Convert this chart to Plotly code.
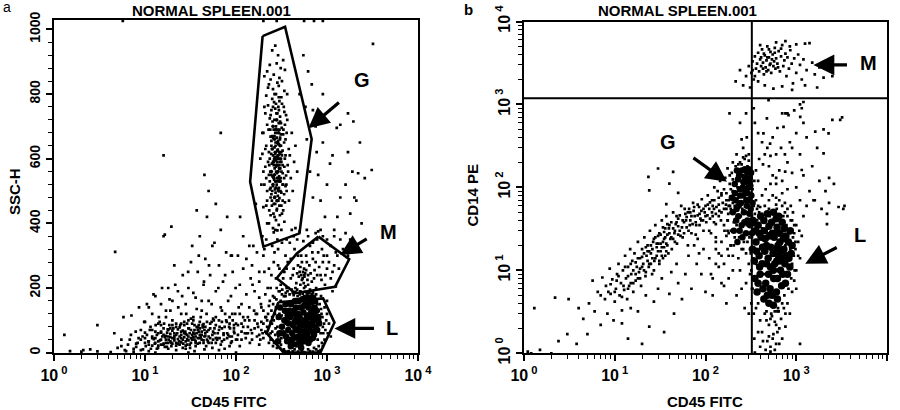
import math
import plotly.graph_objects as go

# ---------------- Panel a : CD45 FITC (log) vs SSC-H (linear) ----------------
A_LOW = [(1.3,55),(2.1,8),(3.0,85),(4.6,60),(5.5,20),(5.8,110),(6.2,5),(6.8,40),(7.1,115),(7.5,12),(7.9,65),
 (8.3,30),(8.6,140),(9.0,8),(9.4,50),(9.8,95),(10.2,20),(10.5,150),(10.9,35),(11.3,70),(11.6,12),(12.0,45),
 (12.4,180),(12.8,28),(13.1,85),(13.5,55),(13.9,15),(14.2,110),(14.6,38),(15.0,62),(15.4,200),(15.8,25),
 (16.2,90),(16.6,48),(17.0,130),(17.4,18),(17.8,72),(18.2,40),(18.6,165),(19.0,58),(19.5,30),(20,100),
 (20.5,75),(21,45),(21.5,210),(22,22),(22.6,60),(23.2,140),(23.8,35),(24.4,85),(25,55),(25.6,175),(26.3,28),
 (27,95),(27.7,65),(28.4,120),(29.1,42),(29.8,250),(30.5,75),(31.3,15),(32,105),(33,55),(34,185),(35,85),
 (36,30),(37,135),(38,70),(39,300),(40,95),(41,48),(42,160),(43,78),(44.5,220),(46,60),(47.5,120),(49,35),
 (50.5,270),(52,90),(54,150),(56,65),(58,340),(60,110),(62,45),(64,200),(66,80),(68,380),(70,130),(73,60),
 (76,240),(79,95),(82,160),(85,50),(88,300),(91,120),(95,75),(99,200),(103,40),(107,140),(111,420),(115,90),
 (120,260),(125,60),(130,180),(135,110),(140,330),(146,70),(152,210),(158,130),(165,460),(172,90),(180,250),
 (188,150),(196,60),(205,320),(214,110),(223,200),
 (5,15),(5.5,40),(6,8),(6.5,25),(7,55),(7.5,3),(8,18),(8.5,45),(9,70),(9.5,10),(10,30),(10.5,55),(11,5),
 (11.5,80),(12,22),(12.5,42),(13,65),(13.5,12),(14,35),(14.5,95),(15,25),(15.5,50),(16,75),(16.5,18),(17,40),
 (17.5,62),(18,30),(18.5,85),(19,48),(19.5,20),(20,68),(21,38),(22,55),(23,28),(24,78),(25,45),(26,15),(27,60),
 (28,35),(29,90),(30,50),(31,25),(32,70),(33,40),(34,100),(35,58),(36,20),(37,80),(38,45),(39,65),(40,30),
 (41,110),(42,55),(43,85),(44,38),(45,70),(47,20),(48,95),(50,50),(52,75),(54,30),(56,105),(58,60),(60,85),
 (62,40),(65,70),(68,25),(70,95),(73,55),(76,120),(80,45),(84,80),(88,30),(92,100),(96,60),(100,40),(105,85),
 (110,20),(115,65),(120,110),(128,45),(135,80),(142,30),(150,60),(160,100),(170,50),(180,25),(190,70),
 (200,45),(210,110),(220,80),(230,55),
 (12,50),(13,30),(14,60),(15,40),(16,28),(17,52),(18,70),(19,35),(20,45),(21,60),(22,30),(23,72),(24,50),
 (25,32),(26,68),(27,48),(28,58),(29,25),(30,75),(32,45),(34,62),(36,50),(38,78),(40,55),(42,40),(44,88),
 (46,52),(48,65),(11,35),(10,62),(9,40),(8,28),(15,65),(20,85),(25,90),(30,100),(35,40),(40,75),(45,50),
 (50,30),(55,55),(60,45),(65,100),(70,35),(75,80),(80,60),(85,110),(90,50),(95,85),(18,12),(22,8),(28,12),
 (35,5),(45,10),(55,15),(65,8),(75,12),(85,20),
 (1.5,5),(2.0,3),(2.5,10),(3.0,4),(4.2,2),(13,0),(30,0),(100,0)]

A_LOW_EXTRA = [(10,45),(11,25),(12,70),(13,45),(14,22),(15,85),(16,55),(17,30),(18,50),(19,75),(20,28),
 (21,52),(22,80),(23,42),(24,25),(25,65),(26,40),(27,85),(28,22),(29,55),(30,38),(31,60),(32,30),(33,90),
 (34,48),(35,70),(36,35),(37,60),(38,28),(39,85),(40,45),(42,65),(44,30),(46,80),(48,40),(50,70),(52,45),
 (54,95),(56,40),(58,75),(60,30),(63,60),(66,45),(70,75),(74,40),(78,100),(82,55),(86,75),(90,35),(95,65),
 (100,90),(105,55),(110,120),(115,40),(120,80),(130,60),(140,100),(150,40),(160,75),(170,120),(180,55),
 (190,95),(200,130),(210,65),(220,100),(230,145),(240,60),(250,110)]

A_MID = [(180,220),(200,300),(215,350),(230,260),(240,200),(250,330),(260,280),(270,380),(235,160),(210,180),
 (190,140),(225,120),(245,240),(255,175),(265,310),(275,230),(285,350),(290,270),(280,200),(220,400),(195,360),
 (205,250),(170,310),(160,190),(150,270),(165,120),(175,80),(185,40),(200,90),(215,60),(230,30),(240,95),
 (180,170),(155,330),(145,230),(140,140),(135,60),(125,100),(120,360),(130,290),(110,210),(115,150),(105,300),
 (98,120),(92,250),(88,175),(85,90),(80,420),(78,310),(72,220),(68,140),(65,270),(60,190),(57,100),(55,330),
 (52,240),(50,160),(48,420),(46,290),(44,210),(42,130),(40,360),(38,250),(36,170),(34,110),(33,330),(32,280),
 (30,200),(28,150),(26,240),(25,120),(23,190),(22,90),(21,270),(20,160),(19,130),(18,200),(17,110),(16,360),
 (15,150),(14,90),(13,175),(12,120),(11,140),(10,95),
 (16,610),(4.7,312),(19.5,390),(16.5,365),(68,680),(45,550),(50,500),(37,440),(60,460),(90,300)]

A_G = [(250,935),(290,920),(330,905),(235,890),(310,880),(270,950),
 (220,870),(260,860),(300,850),(345,875),(240,845),(280,895),(320,840),(205,855),
 (230,830),(255,815),(275,800),(295,825),(315,790),(340,810),(250,785),(285,835),(365,800),(215,795),
 (225,765),(245,750),(262,775),(278,740),(292,760),(305,730),(320,770),(340,745),(235,725),(270,755),
 (300,778),(355,735),(210,740),
 (220,705),(238,690),(252,715),(265,670),(275,700),(285,680),(295,710),(305,665),(318,695),(330,675),
 (345,705),(260,690),(280,665),(300,690),(240,668),(360,680),(200,680),
 (215,640),(230,620),(245,655),(255,610),(265,635),(272,650),(280,605),(288,628),(296,645),(305,615),
 (312,640),(325,625),(338,650),(350,610),(250,630),(290,655),(270,615),(380,630),(195,615),
 (210,575),(225,590),(238,560),(248,585),(258,545),(266,570),(274,595),(282,555),(290,580),(298,545),
 (306,570),(315,590),(326,555),(340,575),(355,548),(245,550),(285,590),(262,598),(370,580),(200,560),
 (205,520),(220,500),(235,530),(245,490),(255,515),(263,535),(272,495),(280,520),(288,485),(296,510),
 (305,530),(315,495),(325,520),(338,490),(350,515),(240,510),(268,482),(300,538),(360,500),
 (215,455),(232,440),(248,470),(258,430),(270,460),(282,445),(292,470),(304,425),(315,455),(330,440),
 (345,465),(265,420),(300,478),(240,425),
 (230,400),(255,385),(275,410),(295,395),(315,380),(260,372),(340,405),(285,378)]

A_G_EXTRA = [(185,600),(190,520),(195,680),(200,450),(205,760),(210,630),(215,540),(220,470),(225,820),
 (228,690),(232,580),(236,505),(240,735),(244,615),(248,455),(252,545),(256,665),(260,580),(264,720),
 (268,505),(272,640),(276,560),(280,470),(284,690),(288,600),(292,530),(296,750),(300,580),(304,660),
 (308,500),(312,710),(316,560),(320,610),(326,470),(332,690),(338,540),(344,600),(350,660),(358,520),
 (366,720),(374,560),(382,470),(390,610),(400,540),(410,680),(420,500),(435,590),(450,640),(470,560),
 (235,600),(255,590),(275,575),(295,600),(315,620),(245,640),(265,605),(285,625),(305,590),(325,580),
 (250,670),(270,680),(290,645),(310,675),(230,550),(250,500),(270,530),(290,505),(310,540),(330,520),
 (260,460),(280,440),(300,455),(320,430),(240,480),(255,760),(275,770),(295,790),(285,740),(265,800),
 (305,715),(335,760)]

A_G_CORE = [(255,700),(275,690),(295,680),(265,660),(285,650),(305,640),(250,630),(270,620),(290,610),
 (310,600),(260,590),(280,580),(300,570),(245,560),(265,550),(285,540),(305,530),(255,520),(275,510),
 (295,500),(265,480),(285,470),(280,720),(270,600),(290,560),(275,530),(300,620),(260,540)]

A_L_CORE = [(330,60),(360,95),(390,40),(420,120),(450,75),(480,50),(510,140),(540,90),(570,35),(600,115),
 (640,70),(680,130),(720,55),(760,100),(345,130),(375,70),(400,150),(430,45),(460,105),(490,160),(520,60),
 (550,125),(585,80),(615,150),(650,40),(690,95),(730,140),(780,70),(340,100),(365,35),(395,110),(425,85),
 (455,140),(485,95),(515,30),(545,65),(580,150),(610,50),(645,110),(685,65),(725,105),(770,130),(355,50),
 (385,130),(415,60),(445,160),(475,120),(505,80),(535,165),(565,100),(595,60),(630,140),(665,85),(705,170),
 (745,80),(800,110),(320,80),(350,150),(380,90),(410,30),(440,95),(470,70),(500,110),(530,45),(560,145),
 (590,95),(625,30),(660,120),(700,45),(740,160),(820,90),(370,115),(435,130),(495,40),(555,55),(620,90),
 (670,155),(710,115),(650,170),(580,170),(460,25),(400,20),(520,15),(300,60),(295,110),(305,140),(290,35)]

A_L = [(290,30),(300,120),(310,160),(285,80),(295,190),(305,15),(320,180),(315,45),(335,10),(350,175),
 (360,200),(380,5),(420,185),(440,10),(470,195),(500,180),(530,5),(560,200),(600,185),(620,10),(650,195),
 (700,190),(720,15),(760,180),(790,40),(830,150),(850,60),(870,120),(900,80),(940,140),(980,100),(1020,60),
 (860,175),(880,30),(810,20),(760,10),(940,40),(1000,160),(270,55),(275,140),(260,100),(255,20),(265,170),
 (250,65),(245,130)]

A_L_EXTRA = [(240,40),(248,90),(256,150),(262,30),(268,120),(272,75),(278,165),(282,15),(288,105),(292,50),
 (298,140),(302,190),(308,65),(312,25),(318,115),(322,195),(336,175),(342,5),(352,185),(368,190),(388,180),
 (410,195),(430,178),(450,188),(475,175),(510,190),(540,182),(575,188),(610,178),(640,185),(680,180),
 (720,175),(750,160),(780,150),(810,130),(840,100),(860,135),(890,110),(910,60),(930,90),(960,70),(1000,120),
 (1050,90),(1100,50),(900,20),(850,8),(800,5),(700,3),(650,5),(560,2),(480,3),(420,4),(360,3),(330,4)]

A_M = [(330,230),(360,260),(380,200),(400,290),(420,240),(440,320),(460,215),(480,270),(500,250),(520,300),
 (540,230),(560,260),(580,205),(600,280),(620,240),(650,330),(680,220),(700,290),(730,255),(760,200),
 (800,310),(850,240),(900,280),(950,210),(1000,260),(1100,230),(1200,270),(520,240),(545,250),(565,235),
 (530,225),(555,215),(590,255),(510,265),(575,245),(490,235),(610,225),(470,245),(350,300),(310,210),
 (390,340),(430,360),(470,350),(550,345),(620,360),(700,340),(780,350),(880,320),(1000,300),(1100,330),
 (1300,300),(1400,350),(1500,320),(1250,205),(1150,190),(700,185),(650,190),(1700,300),(900,360),(800,375),
 (400,230),(430,260),(450,200),(480,300),(510,210),(530,280),(560,240),(590,300),(620,210),(640,270),
 (660,245),(690,310),(720,230),(750,280),(780,240),(820,265),(870,225),(920,300),(960,240),(1050,280),
 (1150,250),(1250,310),(1350,260),(370,280),(340,250),(300,260),(290,320),(320,340),(360,350),(410,380),
 (450,385),(500,375),(600,380),(750,370),(850,380),(1000,350),(1200,360),(1600,370),(1800,350)]

A_RIGHT = [(550,920),(680,830),(900,800),(1400,705),(1950,715),(3200,955),(3100,565),(2200,555),(1700,620),
 (1080,585),(770,620),(1400,480),(2000,480),(1600,520),(800,550),(1280,695),(700,750),(620,870),(600,660),
 (750,700),(900,650),(1000,520),(1150,610),(850,470),(1800,430),(2100,470),(1300,420),(950,420),(700,480),
 (650,560),(1200,380),(2400,400),(500,800),(580,760),(1700,740),(2300,650),(1900,560),(2600,540),
 (5.7,1026),(200,1026),(280,1026),(560,1026),(720,1026),(900,1026)]

# gates (CD45, SSC)
GATE_G = [(196,979),(346,1008),(678,661),(498,369),(200,328),(143,529)]
GATE_M = [(805,359),(1753,289),(1229,204),(446,184),(280,230),(466,307)]
GATE_L = [(292,156),(907,168),(1208,93),(845,0),(335,0),(218,60)]

# ---------------- Panel b : CD45 FITC (log) vs CD14 PE (log) ----------------
B_BAND = [(1.3,3.5),(1.1,1.05),(1.5,1.1),(2.2,4.7),(2.4,1.4),(3.0,1.7),(3.1,4.5),(3.8,1.3),(4.0,3.5),(4.5,2.6),
 (5.0,1.7),(5.2,4.0),(5.7,7.5),(6.0,3.2),(6.5,5.5),(7.0,2.2),(7.3,8.2),(7.8,4.5),(8.0,6.5),(8.3,3.0),
 (8.8,10.5),(9.0,5.2),(9.4,7.8),(9.7,2.5),(10,4.2),(10.3,6.0),(10.6,9.0),(11,12),(11.3,5.0),(11.7,7.0),
 (12,3.3),(12.3,10),(12.7,5.8),(13,15),(13.3,8.0),(13.7,4.5),(14,11),(14.4,6.5),(14.8,18),(15.2,9.0),
 (15.6,13),(16,5.5),(16.5,16),(17,7.5),(17.5,11),(18,22),(18.5,9.5),(19,14),(19.5,6.5),(20,18),(20.6,12),
 (21.2,25),(21.8,8.5),(22.4,15),(23,20),(23.7,11),(24.4,30),(25,16),(25.8,9),(26.5,22),(27.3,13),(28,35),
 (29,19),(30,26),(31,12),(32,17),(33,40),(34,22),(35,29),(36,15),(37,45),(38,20),(39.5,32),(41,24),
 (42.5,18),(44,50),(45.5,28),(47,36),(48.5,21),(50,42),(52,30),(54,60),(56,25),(58,38),(60,48),(62,33),
 (64,20),(66,55),(68,40),(70,28),(73,65),(76,45),(79,35),(82,24),(85,58),(88,42),(91,72),(95,30),(98,50),
 (102,38),(106,80),(110,55),(115,28),(120,45),(125,70),(130,36),(136,90),(142,52),(148,40),(155,65),
 (162,30),(170,85),(178,48),(186,60),
 (8.5,5.5),(10.5,7.5),(12.5,6.5),(14,8.5),(15,7),(16,10),(17,12.5),(18,8),(19,10.5),(20,14.5),(21,10),
 (22,19),(23,13),(24,17),(25,12),(26,18),(27,24),(28,14),(29,21),(30,17),(31,28),(32,21),(33,15),(34,33),
 (35,19),(36,25),(37,17),(38,36),(40,28),(42,38),(44,24),(46,30),(48,45),(50,34),(53,26),(56,40),(59,55),
 (62,44),(65,30),(68,50),(72,36),(75,58),(78,27),(82,46),(86,35),(90,52),(94,40),(100,60),(105,46),
 (112,66),(118,50),(124,38),(132,58),(140,75),(150,50),(160,95),(168,62),(176,40),(190,78),
 (7,5),(12,2.3),(14,1.5),(18,3.2),(20,1.3),(24,2.1),(27,4.2),(30,6.0),(35,1.8),(40,5.2),(45,3.0),(50,7.0),
 (55,4.5),(60,9.0),(70,6.0),(80,12),(90,9),(100,5.5),(110,14),(120,8),(140,11),(160,6.5),(180,15),
 (200,10),(15,3.5),(22,5),(33,8),(42,9.5),(48,12),(65,15),(75,20),(85,16),(95,18),(130,18),(150,22),
 (170,26),(190,20),(210,30),
 (23.5,134),(30,169),(44,154),(40,111),(24,92),(50,86),(37,63),(1.2,1.0),(2.0,1.0),
 (110,30),(120,60),(130,22),(140,45),(150,80),(160,35),(170,55),(180,28),(190,95),(200,65),(210,40),
 (150,15),(175,18),(130,12),(115,9),(125,100),(145,120),(165,130),(185,140),(200,200),(220,250),(230,190),
 (175,170)]

B_BAND_EXTRA = [(9,6.8),(10,5.5),(11,8.5),(12,4.8),(13,11),(14,6),(15,12),(16,7),(17,9),(18,14),(19,8),
 (20,11),(21,16),(22,9.5),(23,17),(24,12),(25,20),(26,14),(27,10),(28,25),(29,15),(30,21),(31,13),(32,27),
 (33,19),(34,14),(35,24),(36,32),(37,21),(38,27),(39,16),(40,35),(42,25),(44,32),(46,22),(48,38),(50,27),
 (52,46),(55,33),(58,28),(61,40),(64,50),(67,35),(70,45),(74,52),(78,38),(82,62),(86,48),(90,40),(95,55),
 (100,45),(106,62),(112,42),(118,70),(124,55),(130,48),(140,62),(150,85),(160,55),(170,70),(180,60),
 (190,50),(200,88)]

B_G_CORE = [(205,30),(230,45),(255,25),(285,60),(310,35),(215,70),(240,95),(265,50),(295,120),(320,80),
 (210,110),(235,140),(260,80),(290,40),(315,55),(225,22),(250,35),(275,90),(300,70),(325,28),(220,55),
 (245,65),(270,130),(298,100),(318,150),(212,85),(238,30),(262,115),(288,150),(312,105),(228,125),
 (252,160),(280,28),(305,48),(330,65),(218,40),(242,80),(268,38),(292,85),(322,40),(232,60),(258,100),
 (282,70),(308,130),(200,50),(195,75),(222,160),(272,165),(300,165)]

B_G_EXTRA = [(175,40),(180,70),(185,110),(190,30),(195,150),(200,90),(205,20),(210,60),(215,180),(220,35),
 (225,100),(230,75),(235,25),(240,120),(245,45),(250,190),(255,55),(260,140),(265,22),(270,95),(275,60),
 (280,110),(285,35),(290,180),(295,50),(300,85),(305,25),(310,170),(315,70),(320,115),(325,45),(330,95),
 (335,28),(340,60),(345,120),(190,55),(200,125),(210,38),(250,18),(280,16),(310,18),(240,200),(300,210),
 (280,240),(260,230)]

B_L_CORE = [(350,8),(390,15),(430,6),(470,20),(520,11),(570,25),(620,8),(680,17),(750,12),(820,22),
 (360,22),(400,9),(445,30),(490,14),(540,5),(590,18),(650,28),(710,9),(780,15),(860,30),(345,13),(380,35),
 (420,12),(460,7),(505,26),(555,16),(605,5.5),(660,13),(720,24),(800,9),(370,5.5),(410,25),(450,17),
 (495,9),(535,38),(580,12),(630,20),(690,6.5),(740,32),(830,14),(355,30),(395,11),(440,40),(480,5),
 (525,19),(565,8),(615,33),(670,10),(730,18),(900,20),(365,17),(405,45),(455,24),(500,34),(545,28),
 (600,42),(640,15),(700,38),(760,7),(850,11),(380,7),(425,19),(470,12),(515,6),(560,10),(610,13),(660,22),
 (705,14),(770,26),(880,16),(440,4.5),(500,4),(560,3.8),(620,4.5),(480,48),(560,50),(640,45),(390,28),
 (330,18),(335,40)]

B_L = [(360,3.5),(400,2.5),(420,1.8),(450,3.0),(480,1.4),(500,2.2),(520,1.2),(540,2.8),(560,1.7),(580,2.4),
 (600,1.3),(620,3.2),(650,2.0),(680,2.6),(700,1.5),(730,3.5),(760,2.1),(800,4.0),(850,3.0),(900,5.5),
 (950,7.5),(1000,10),(980,18),(950,28),(900,40),(1000,35),(1050,22),(1100,14),(1150,26),(920,50),(870,60),
 (800,55),(750,65),(700,60),(650,70),(600,75),(550,80),(500,70),(450,60),(400,58),(370,55),(340,3),
 (345,1.5),(400,1.2),(460,1.1),(520,1.05),(580,1.1),(350,1.02),(1100,1.3),
 (160,12),(180,8),(200,15),(220,5),(240,10),(260,18),(280,7),(300,12),(320,4),(190,20),(210,25),(250,6),
 (270,3.5),(290,22),(310,9),(230,14),(170,4),(150,7),(140,16),(130,25),(120,5),(300,3),(315,16),(325,6),
 (175,30),(205,38),(265,28)]

B_L_EXTRA = [(320,10),(325,25),(330,6),(335,14),(340,35),(350,48),(360,12),(370,40),(380,4),(390,50),(410,6),
 (420,32),(440,9),(460,42),(470,3.2),(490,28),(510,45),(530,3),(550,36),(570,5),(590,30),(610,55),(630,3.5),
 (660,40),(680,30),(700,10),(720,45),(740,5),(760,20),(780,35),(800,14),(820,6),(840,28),(860,18),(880,8),
 (900,12),(920,25),(940,15),(960,10),(980,22),(1000,6),(1050,15),(800,45),(750,50),(700,28),(600,62),
 (500,55),(420,48),(380,60),(360,70),(870,40),(950,35),(1080,30),(640,3.2),(700,4),(760,3),(580,3.2),
 (470,2.5),(520,2.6),(600,2.2),(550,1.5),(650,1.3),(430,1.4),(380,1.8),(500,1.6),(620,1.8)]

B_UPPER = [(340,900),(350,600),(380,450),(420,350),(450,250),(500,180),(550,140),(600,110),(650,160),
 (700,120),(750,250),(800,200),(850,350),(900,300),(1000,450),(1100,250),(1200,600),(1300,400),(1500,180),
 (1700,300),(2000,500),(2500,650),(3200,700),(1800,120),(1400,90),(1200,140),(1000,100),(900,150),(800,95),
 (700,85),(600,130),(520,110),(460,95),(420,80),(380,120),(360,160),(390,220),(430,190),(480,300),(550,400),
 (620,520),(700,780),(760,780),(800,780),(950,850),(1100,1000),(1150,900),(680,300),(600,250),(520,240),
 (2300,130),(2600,110),(3300,55),(2300,65),(1600,70),(1300,60),(1100,70),(1900,55),(2100,90),(1200,45),
 (3400,60),(3050,650),(2270,448),(1620,470),(1106,710),(1200,1070),(724,538),(822,745),(2000,257),
 (2925,58),(2180,48),(2180,36),(1550,70),(1150,162),(755,155),(435,448),(515,338),(475,680),(495,1130),
 (260,300),(270,220),(250,380),(300,250),(285,400),(240,600),(184,780),(280,780)]

B_M = [(215,1900),(240,2600),(260,1700),(280,2200),(300,2900),(310,1600),(320,2400),(330,3300),(340,2000),
 (350,3800),(360,2700),(370,3100),(380,4200),(390,2500),(400,3500),(410,2900),(420,4600),(430,3200),
 (440,2300),(450,3900),(460,2800),(470,3400),(480,5000),(490,2600),(500,3700),(510,3000),(520,4300),
 (530,2400),(540,3500),(550,4000),(560,2900),(570,3300),(580,4800),(590,2700),(600,3600),(620,3100),
 (640,4400),(660,2500),(680,3800),(700,5200),(720,2900),(740,3400),(760,4100),(780,2200),(800,3700),
 (830,2700),(860,4500),(890,3100),(920,1800),(950,3600),(1000,2400),(1050,4000),(1100,3000),(1150,2000),
 (1200,3500),(1300,2600),(1400,5500),(1500,3200),(1600,2300),(1800,2800),(2000,2100),(2200,3300),
 (2500,2200),(1700,1600),(1250,1700),(900,1500),(700,1650),(560,1550),(450,1700),(380,1900),(330,2600),
 (350,2200),(410,3700),(440,4100),(470,2500),(520,3100),(480,3700),(430,2700),(580,4200),(630,2800),
 (500,4600),(680,4700),(600,5600),(400,5200),(850,5000),(760,5800),(1000,5300),(1250,5400)]

B_QUAD_X = 324     # CD45 threshold
B_QUAD_Y = 1186    # CD14 threshold

DECADES = [1, 10, 100, 1000, 10000]
DECADE_TEXT = ["10<sup> 0</sup>", "10<sup> 1</sup>", "10<sup> 2</sup>", "10<sup> 3</sup>", "10<sup> 4</sup>"]
MINOR_LOG = [m * d for d in [1, 10, 100, 1000] for m in range(2, 10)]
SSC_TICKS = [0, 200, 400, 600, 800, 1000]

FONT = "Liberation Sans, Arial, Helvetica, sans-serif"

def xs(pts):
    return [p[0] for p in pts]

def ys(pts):
    return [p[1] for p in pts]

fig = go.Figure()

def dots(pts, xa, ya, size, symbol="square"):
    fig.add_trace(go.Scatter(x=xs(pts), y=ys(pts), mode="markers", xaxis=xa, yaxis=ya,
                             marker=dict(size=size, color="black", symbol=symbol, line=dict(width=0)),
                             showlegend=False, hoverinfo="skip"))

for pts in [A_LOW, A_LOW_EXTRA, A_MID, A_G, A_G_EXTRA, A_L, A_L_EXTRA, A_M, A_RIGHT]:
    dots(pts, "x", "y", 2.7)
dots(A_G_CORE, "x", "y", 3.6, "circle")
dots(A_L_CORE, "x", "y", 6.5, "circle")

for gate in [GATE_G, GATE_M, GATE_L]:
    closed = gate + [gate[0]]
    fig.add_trace(go.Scatter(x=xs(closed), y=ys(closed), mode="lines", xaxis="x", yaxis="y",
                             line=dict(color="black", width=2.6), showlegend=False, hoverinfo="skip"))

for pts in [B_BAND, B_BAND_EXTRA, B_L, B_L_EXTRA, B_G_EXTRA, B_UPPER, B_M]:
    dots(pts, "x2", "y2", 2.7)
dots(B_G_CORE, "x2", "y2", 6.5, "circle")
dots(B_L_CORE, "x2", "y2", 7.5, "circle")

axis_common = dict(showline=True, linecolor="black", linewidth=2, mirror=True, showgrid=False,
                   zeroline=False, ticks="outside", ticklen=6, tickwidth=1.5, tickcolor="black",
                   automargin=False)
minor_log = dict(tickvals=MINOR_LOG, ticks="outside", ticklen=4, tickwidth=1, tickcolor="black")
tick_font_x = dict(family=FONT, size=16, color="black", weight="bold")

fig.update_layout(
    width=900, height=410, margin=dict(l=0, r=0, t=0, b=0, autoexpand=False),
    paper_bgcolor="white", plot_bgcolor="white",
    xaxis=dict(domain=[54/900, 418/900], type="log", range=[0, 4], anchor="y",
               tickmode="array", tickvals=DECADES, ticktext=DECADE_TEXT, minor=minor_log,
               tickfont=tick_font_x, **axis_common),
    yaxis=dict(domain=[1 - 353.3/410, 1 - 20/410], range=[-2, 1029], anchor="x",
               tickmode="array", tickvals=SSC_TICKS, tickangle=-90,
               minor=dict(dtick=40, tick0=0, ticks="outside", ticklen=4, tickwidth=1, tickcolor="black"),
               tickfont=dict(family=FONT, size=14, color="black", weight="bold"), **axis_common),
    xaxis2=dict(domain=[524/900, 887/900], type="log", range=[0, 4], anchor="y2",
                tickmode="array", tickvals=DECADES, ticktext=DECADE_TEXT, minor=minor_log,
                tickfont=tick_font_x, **axis_common),
    yaxis2=dict(domain=[1 - 353.3/410, 1 - 21.5/410], type="log", range=[0, 4], anchor="x2",
                tickmode="array", tickvals=DECADES, ticktext=DECADE_TEXT, tickangle=-90, minor=minor_log,
                tickfont=tick_font_x, **axis_common),
)

# quadrant lines (data values on the log axes)
fig.add_shape(type="line", xref="x2", yref="y2 domain", x0=B_QUAD_X, x1=B_QUAD_X, y0=0, y1=1,
              line=dict(color="black", width=2))
fig.add_shape(type="line", xref="x2 domain", yref="y2", x0=0, x1=1, y0=B_QUAD_Y, y1=B_QUAD_Y,
              line=dict(color="black", width=2))

def label(text, x, y, xref, yref, size=20, angle=0):
    fig.add_annotation(text=text, x=x, y=y, xref=xref, yref=yref, showarrow=False, textangle=angle,
                       font=dict(family=FONT, size=size, color="black", weight="bold"),
                       xanchor="center", yanchor="middle")

def arrow(x, y, ax, ay, xref, yref):
    fig.add_annotation(text="", x=x, y=y, ax=ax, ay=ay, xref=xref, yref=yref, showarrow=True,
                       arrowhead=2, arrowsize=1.3, arrowwidth=3.2, arrowcolor="black", standoff=0)

# panel a labels and arrows (annotation x positions in log10 units)
label("G", 3.384, 843, "x", "y")
label("M", 3.677, 374, "x", "y")
label("L", 3.714, 75, "x", "y")
arrow(2.796, 694, 32, -27, "x", "y")
arrow(3.145, 302, 28, -17, "x", "y")
arrow(3.082, 75, 41, 0, "x", "y")

# panel b labels and arrows
label("G", 1.591, 2.55, "x2", "y2")
label("M", 3.797, 3.497, "x2", "y2")
label("L", 3.706, 1.422, "x2", "y2")
arrow(3.190, 3.477, 35, 0, "x2", "y2")
arrow(2.236, 2.067, -35, -25, "x2", "y2")
arrow(3.099, 1.080, 33, -17, "x2", "y2")

# titles, panel letters, axis titles
label("NORMAL SPLEEN.001", 211/900, 1 - 10/410, "paper", "paper", size=15)
label("NORMAL SPLEEN.001", 677.5/900, 1 - 10/410, "paper", "paper", size=15)
fig.add_annotation(text="a", x=7/900, y=1 - 7/410, xref="paper", yref="paper", showarrow=False,
                   font=dict(family=FONT, size=14, color="black"), xanchor="center", yanchor="middle")
fig.add_annotation(text="b", x=468/900, y=1 - 9/410, xref="paper", yref="paper", showarrow=False,
                   font=dict(family=FONT, size=15, color="black", weight="bold"), xanchor="center", yanchor="middle")
label("CD45 FITC", 229/900, 1 - 401/410, "paper", "paper", size=15)
label("CD45 FITC", 705/900, 1 - 401/410, "paper", "paper", size=15)
label("SSC-H", 14/900, 1 - 192/410, "paper", "paper", size=15, angle=-90)
label("CD14 PE", 471.5/900, 1 - 195/410, "paper", "paper", size=15, angle=-90)

fig.write_html("out.html", config={"displayModeBar": False},
               post_script="document.body.style.margin='0px';")
